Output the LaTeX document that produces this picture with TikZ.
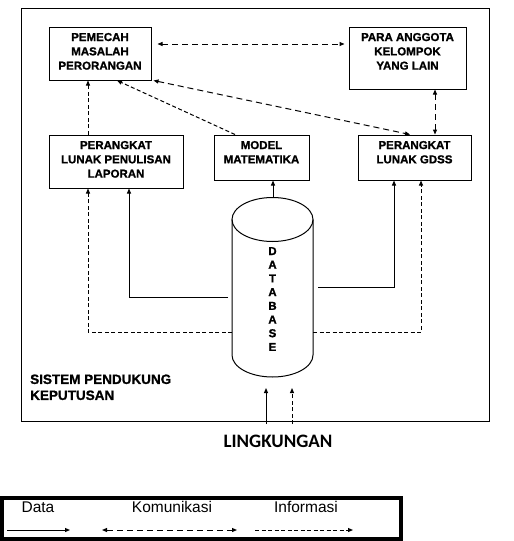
\documentclass[tikz,border=0pt]{standalone}
\usepackage{fontspec}
\setmainfont{Liberation Sans}[BoldFont={Liberation Sans Bold}, BoldFeatures={FakeBold=1.2}]
\newfontfamily\carlitofont{Carlito}[BoldFont={Carlito Bold}]
\usetikzlibrary{arrows.meta}
\newcommand\bxtext[3]{\parbox[c][#2][t]{#1}{\centering\vspace*{6pt}#3}}
\tikzset{
  box/.style={draw, line width=1pt, inner sep=0pt, font=\bfseries\fontsize{11.5}{14.3}\selectfont},
  tip/.style={-{Triangle[length=5pt,width=4pt]}},
  datacon/.style={line width=1pt, tip},
  infocon/.style={line width=1pt, tip, dash pattern=on 4pt off 2.5pt},
  kommcon/.style={line width=1pt, {Triangle[length=5pt,width=4pt]}-{Triangle[length=5pt,width=4pt]}, dash pattern=on 6pt off 4pt},
  legtext/.style={font=\fontsize{15.5}{18}\selectfont, inner sep=0pt}
}
\begin{document}
\begin{tikzpicture}[x=1pt,y=-1pt]
\useasboundingbox (0,0) rectangle (514,541);
% outer frame
\node[draw, line width=1pt, minimum width=467.3pt, minimum height=413.7pt, inner sep=0pt] (dss) at (255.35,214.85) {};
% boxes
\node[box] (pemecah) at (100,53.5) {\bxtext{102pt}{53pt}{PEMECAH\\MASALAH\\PERORANGAN}};
\node[box] (para) at (407.5,58) {\bxtext{117pt}{62pt}{PARA ANGGOTA\\KELOMPOK\\YANG LAIN}};
\node[box] (lap) at (116,161.5) {\bxtext{134pt}{53pt}{PERANGKAT\\LUNAK PENULISAN\\LAPORAN}};
\node[box] (model) at (261.5,157.5) {\bxtext{95pt}{45pt}{MODEL\\MATEMATIKA}};
\node[box] (gdss) at (414.5,157.5) {\bxtext{113pt}{45pt}{PERANGKAT\\LUNAK GDSS}};
% cylinder
\draw[line width=1pt] (272.5,219.5) ellipse [x radius=40.5, y radius=22];
\draw[line width=1pt] (232,219.5) -- (232,355) arc[start angle=180, end angle=360, x radius=40.5, y radius=-22] -- (313,219.5);
\node[font=\bfseries\fontsize{11.5}{13.7}\selectfont, align=center, inner sep=0pt] (db) at (272.5,299) {D\\A\\T\\A\\B\\A\\S\\E};
\coordinate (dbtop) at (273,197.5);
\coordinate (dbL1) at (228,297);
\coordinate (dbL2) at (232,332);
\coordinate (dbR1) at (318,287);
\coordinate (dbR2) at (313,332);
\coordinate (envS) at (266,424);
\coordinate (envI) at (292,424);
\coordinate (dbbS) at (266,388);
\coordinate (dbbI) at (292,388);
% data connectors
\draw[datacon] (dbtop) -- (dbtop |- model.south);
\draw[datacon] (dbL1) -| ([xshift=13pt]lap.south);
\draw[datacon] (dbR1) -| ([xshift=-20.5pt]gdss.south);
\draw[datacon] (envS) -- (dbbS);
% information connectors
\draw[infocon] (dbL2) -| ([xshift=-28pt]lap.south);
\draw[infocon] (dbR2) -| ([xshift=6.5pt]gdss.south);
\draw[infocon] (envI) -- (dbbI);
\draw[infocon] ([xshift=-28pt]lap.north) -- ([xshift=-28pt]lap.north |- pemecah.south);
\draw[infocon] ([xshift=-26.5pt]model.north) -- ([xshift=17pt]pemecah.south);
% communication connectors
\draw[kommcon] ([shift={(6,-9.5)}]pemecah.east) -- ([shift={(-4,-9.5)}]pemecah.east -| para.west);
\draw[kommcon] ([xshift=2pt]pemecah.south east) -- ([xshift=-4.5pt]gdss.north);
\draw[kommcon] ([xshift=27.5pt]para.south) -- ([xshift=27.5pt]para.south |- gdss.north);
% labels
\node[font=\bfseries\fontsize{13.5}{16}\selectfont, align=left, anchor=north west, inner sep=0pt] (spk) at (30,374.3) {SISTEM PENDUKUNG\\KEPUTUSAN};
\node[font=\carlitofont\bfseries\fontsize{19}{22}\selectfont, inner sep=0pt] (env) at (278,441.3) {LINGKUNGAN};
% legend
\node[draw, line width=4pt, minimum width=398.5pt, minimum height=41pt, inner sep=0pt] (legend) at (201.25,518.5) {};
\node[legtext] (ldata) at (38,507) {Data};
\node[legtext] (lkomm) at (172,507) {Komunikasi};
\node[legtext] (linfo) at (306,507) {Informasi};
\coordinate (a1) at (7,530); \coordinate (a2) at (70,530);
\coordinate (b1) at (102,530); \coordinate (b2) at (237,530);
\coordinate (c1) at (255,530); \coordinate (c2) at (353,530);
\draw[datacon] (a1) -- (a2);
\draw[kommcon] (b1) -- (b2);
\draw[infocon] (c1) -- (c2);
\end{tikzpicture}
\end{document}
